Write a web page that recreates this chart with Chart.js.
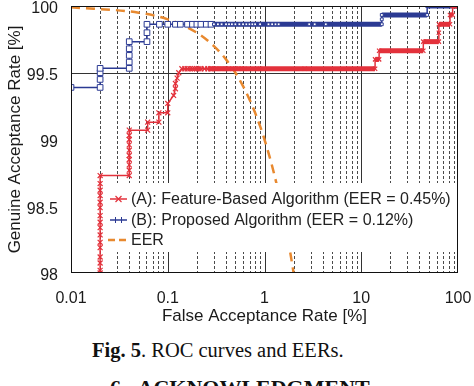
<!DOCTYPE html>
<html>
<head>
<meta charset="utf-8">
<script src="https://cdn.jsdelivr.net/npm/chart.js@4.4.1/dist/chart.umd.min.js"></script>
<style>
  body { margin: 0; background: #fff; width: 474px; height: 386px; overflow: hidden; position: relative; }
  #roc-chart { position: absolute; left: 0; top: 0; }
  .caption { position: absolute; font-family: 'Liberation Serif', 'Times New Roman', serif; color: #111; white-space: nowrap; }
</style>
</head>
<body>
<canvas id="roc-chart" width="474" height="330"></canvas>
<div class="caption" style="left:92px; top:340px; font-size:20.5px; line-height:20px;"><b>Fig. 5</b>. ROC curves and EERs.</div>
<div class="caption" style="left:110px; top:377px; font-size:22px; line-height:22px; font-weight:bold;">6.&nbsp;&nbsp;ACKNOWLEDGMENT</div>
<script>
// ROC curves

const xTickValues = [0.01, 0.1, 1, 10, 100];
const xTickLabels = ['0.01', '0.1', '1', '10', '100'];
const yTickValues = [98, 98.5, 99, 99.5, 100];

// linee della griglia
const xMajorGrid = [0.1, 1, 10];
const xMinorGrid = [0.02, 0.03, 0.04, 0.05, 0.06, 0.07, 0.08, 0.09,
                    0.2, 0.3, 0.4, 0.5, 0.6, 0.7, 0.8, 0.9,
                    2, 3, 4, 5, 6, 7, 8, 9,
                    20, 30, 40, 50, 60, 70, 80, 90];
const yGridLines = [99.5];

const seriesLabels = [
    '(A): Feature-Based Algorithm (EER = 0.45%)',
    '(B): Proposed Algorithm (EER = 0.12%)',
    'EER'
];

// (A) Feature-Based: FAR [%] / GAR [%]
const farA = [
    0.02, 0.02, 0.02, 0.02, 0.02, 0.02, 0.02, 0.02, 0.02, 0.02, 0.02, 0.02, 0.02, 0.02, 0.02, 0.02,
    0.04, 0.04, 0.04, 0.04, 0.04, 0.04, 0.04, 0.04, 0.04, 0.04,
    0.062, 0.062, 0.081, 0.081, 0.1, 0.1, 0.115, 0.12, 0.12, 0.125, 0.13, 0.14,
    0.15, 0.16, 0.17, 0.18, 0.19, 0.2, 0.21, 0.22, 0.24, 0.26, 0.28, 0.3, 0.32, 0.34, 0.36, 0.38,
    0.4, 0.43, 0.46, 0.5, 0.54, 0.58, 0.62, 0.9, 2.6, 13.9,
    13.9, 15.3, 15.3, 43.8, 43.8, 63.4, 63.4, 63.4, 82.7, 82.7, 88, 88, 100
];
const garA = [
    98.0, 98.02, 98.075, 98.12, 98.19, 98.23, 98.285, 98.34, 98.38, 98.43, 98.49, 98.53, 98.58, 98.62, 98.67, 98.73,
    98.73, 98.77, 98.81, 98.85, 98.88, 98.92, 98.96, 99.0, 99.03, 99.07,
    99.07, 99.13, 99.13, 99.2, 99.2, 99.27, 99.33, 99.38, 99.42, 99.46, 99.5, 99.53,
    99.53, 99.53, 99.53, 99.53, 99.53, 99.53, 99.53, 99.53, 99.53, 99.53, 99.53, 99.53, 99.53, 99.53, 99.53, 99.53,
    99.53, 99.53, 99.53, 99.53, 99.53, 99.53, 99.53, 99.53, 99.53, 99.53,
    99.6, 99.6, 99.665, 99.665, 99.733, 99.733, 99.8, 99.863, 99.863, 99.933, 99.933, 100, 100
];

// (B) Proposed: FAR [%] / GAR [%]
const farB = [
    0.01, 0.02, 0.02, 0.02, 0.02,
    0.04, 0.04, 0.04, 0.04, 0.04,
    0.061, 0.061, 0.061,
    0.082, 0.1, 0.12, 0.135, 0.16, 0.18, 0.2, 0.22, 0.25, 0.28, 0.3, 0.33, 0.36, 0.4, 0.43, 0.46,
    0.5, 0.55, 0.6, 0.65, 0.7, 0.75, 0.8, 0.9, 1.1, 1.2, 1.3, 1.4, 2.9, 3.3, 4.3, 16.3,
    16.3, 16.3, 48, 48, 100
];
const garB = [
    99.39, 99.39, 99.45, 99.5, 99.533,
    99.533, 99.58, 99.63, 99.68, 99.733,
    99.733, 99.8, 99.863,
    99.863, 99.863, 99.863, 99.863, 99.863, 99.863, 99.863, 99.863, 99.863, 99.863, 99.863, 99.863, 99.863, 99.863, 99.863, 99.863,
    99.863, 99.863, 99.863, 99.863, 99.863, 99.863, 99.863, 99.863, 99.863, 99.863, 99.863, 99.863, 99.863, 99.863, 99.863, 99.863,
    99.9, 99.933, 99.933, 100, 100
];

// linea EER (FAR = FRR)
const farEER = [0.01, 0.05, 0.1, 0.2, 0.3, 0.4, 0.5, 0.6, 0.7, 0.8, 0.9, 1, 1.2, 1.4, 1.6, 1.8, 2];
const garEER = [99.99, 99.95, 99.9, 99.8, 99.7, 99.6, 99.5, 99.4, 99.3, 99.2, 99.1, 99, 98.8, 98.6, 98.4, 98.2, 98];

const COLOR_A = '#e3313b';
const COLOR_B = '#2b3a93';
const COLOR_EER = '#e8892f';
const FONT_SANS = "'Liberation Sans', Arial, sans-serif";

function toPoints(xs, ys) {
    return xs.map((x, i) => ({ x: x, y: ys[i] }));
}

// tratti orizzontali con marker fitti: appaiono come linee spesse
function flatWidth(threshold, thin, thick) {
    return ctx => (ctx.p0.parsed.y === ctx.p1.parsed.y && ctx.p0.parsed.x >= threshold) ? thick : thin;
}

// marker piu' piccoli dove i punti sono fitti
function markerSize(threshold, big, small) {
    return ctx => {
        const p = ctx.raw;
        return (p && p.x >= threshold) ? small : big;
    };
}

/**
 * Griglia: tratteggiata sui minori, continua sulle decadi e su 99.5
 */
const gridPlugin = {
    id: 'rocGrid',
    beforeDatasetsDraw(chart) {
        const { ctx, chartArea, scales } = chart;
        ctx.save();
        ctx.lineWidth = 1;
        ctx.strokeStyle = '#4a4a4a';
        ctx.setLineDash([3, 2]);
        xMinorGrid.forEach(v => {
            const x = Math.round(scales.x.getPixelForValue(v)) + 0.5;
            ctx.beginPath();
            ctx.moveTo(x, chartArea.top);
            ctx.lineTo(x, chartArea.bottom);
            ctx.stroke();
        });
        ctx.setLineDash([]);
        ctx.strokeStyle = '#333';
        xMajorGrid.forEach(v => {
            const x = Math.round(scales.x.getPixelForValue(v)) + 0.5;
            ctx.beginPath();
            ctx.moveTo(x, chartArea.top);
            ctx.lineTo(x, chartArea.bottom);
            ctx.stroke();
        });
        yGridLines.forEach(v => {
            const y = Math.round(scales.y.getPixelForValue(v)) + 0.5;
            ctx.beginPath();
            ctx.moveTo(chartArea.left, y);
            ctx.lineTo(chartArea.right, y);
            ctx.stroke();
        });
        ctx.restore();
    }
};

/**
 * Legenda dentro l'area del grafico, con sfondo bianco
 */
const legendPlugin = {
    id: 'rocLegend',
    afterDatasetsDraw(chart) {
        const { ctx, chartArea } = chart;
        const boxLeft = chartArea.left + 33;
        const boxTop = chartArea.top + 177;
        ctx.save();
        ctx.fillStyle = '#fff';
        ctx.fillRect(boxLeft, boxTop, chartArea.right - boxLeft - 1, 69);

        const x0 = boxLeft + 6;
        const x1 = boxLeft + 23;
        const rows = [boxTop + 16, boxTop + 37, boxTop + 57];

        // (A) linea rossa con x
        ctx.strokeStyle = COLOR_A;
        ctx.lineWidth = 1.5;
        ctx.beginPath();
        ctx.moveTo(x0, rows[0]);
        ctx.lineTo(x1, rows[0]);
        ctx.stroke();
        const cx = (x0 + x1) / 2;
        ctx.lineWidth = 1.2;
        ctx.beginPath();
        ctx.moveTo(cx - 3, rows[0] - 3); ctx.lineTo(cx + 3, rows[0] + 3);
        ctx.moveTo(cx + 3, rows[0] - 3); ctx.lineTo(cx - 3, rows[0] + 3);
        ctx.stroke();

        // (B) linea blu con marker
        ctx.strokeStyle = COLOR_B;
        ctx.lineWidth = 1.5;
        ctx.beginPath();
        ctx.moveTo(x0, rows[1]);
        ctx.lineTo(x1, rows[1]);
        ctx.stroke();
        ctx.lineWidth = 1;
        [cx - 3, cx + 3].forEach(mx => {
            ctx.beginPath();
            ctx.moveTo(mx, rows[1] - 3);
            ctx.lineTo(mx, rows[1] + 3);
            ctx.stroke();
        });

        // EER tratteggiata
        ctx.strokeStyle = COLOR_EER;
        ctx.lineWidth = 2.5;
        ctx.setLineDash([7, 4]);
        ctx.beginPath();
        ctx.moveTo(x0 - 2, rows[2]);
        ctx.lineTo(x1, rows[2]);
        ctx.stroke();
        ctx.setLineDash([]);

        ctx.fillStyle = '#222';
        ctx.font = '16px ' + FONT_SANS;
        ctx.textBaseline = 'middle';
        ctx.textAlign = 'left';
        seriesLabels.forEach((label, i) => {
            ctx.fillText(label, x1 + 4, rows[i] + 1);
        });
        ctx.restore();
    },
    afterDraw(chart) {
        const { ctx, chartArea } = chart;
        ctx.save();
        ctx.strokeStyle = '#111';
        ctx.lineWidth = 1;
        ctx.strokeRect(chartArea.left + 0.5, chartArea.top + 0.5,
            chartArea.right - chartArea.left - 1, chartArea.bottom - chartArea.top - 1);
        ctx.restore();
    }
};

const ctx = document.getElementById('roc-chart');

new Chart(ctx, {
    type: 'line',
    data: {
        datasets: [
            {
                label: seriesLabels[0],
                data: toPoints(farA, garA),
                borderColor: COLOR_A,
                borderWidth: 1.5,
                pointStyle: 'crossRot',
                pointRadius: markerSize(0.3, 3.5, 3),
                pointBorderWidth: 1.2,
                pointBorderColor: COLOR_A,
                pointBackgroundColor: COLOR_A,
                fill: false,
                tension: 0,
                segment: { borderWidth: flatWidth(0.25, 1.5, 5) }
            },
            {
                label: seriesLabels[1],
                data: toPoints(farB, garB),
                borderColor: COLOR_B,
                borderWidth: 1.5,
                pointStyle: 'rect',
                pointRadius: markerSize(0.3, 4, 2),
                pointBorderWidth: 1,
                pointBorderColor: COLOR_B,
                pointBackgroundColor: '#fff',
                fill: false,
                tension: 0,
                segment: { borderWidth: flatWidth(0.25, 1.5, 5) }
            },
            {
                label: seriesLabels[2],
                data: toPoints(farEER, garEER),
                borderColor: COLOR_EER,
                borderWidth: 2.5,
                borderDash: [9, 6],
                pointRadius: 0,
                fill: false,
                cubicInterpolationMode: 'monotone'
            }
        ]
    },
    options: {
        responsive: false,
        animation: false,
        devicePixelRatio: 1,
        layout: { padding: { left: 0, right: 16, top: 6, bottom: 0 } },
        plugins: {
            legend: { display: false },
            tooltip: { enabled: false }
        },
        scales: {
            x: {
                type: 'logarithmic',
                min: 0.01,
                max: 100,
                grid: { display: false, drawTicks: false },
                border: { display: false },
                afterBuildTicks: scale => {
                    scale.ticks = xTickValues.map(v => ({ value: v }));
                },
                afterFit: scale => {
                    scale.height = 57;
                    scale.paddingLeft = 0;
                    scale.paddingRight = 0;
                },
                ticks: {
                    autoSkip: false,
                    maxRotation: 0,
                    padding: 16,
                    color: '#1a1a1a',
                    font: { size: 16, family: FONT_SANS },
                    callback: (value, index) => xTickLabels[index]
                },
                title: {
                    display: true,
                    text: 'False Acceptance Rate [%]',
                    color: '#1a1a1a',
                    font: { size: 17, family: FONT_SANS },
                    padding: { top: 0, bottom: 3 }
                }
            },
            y: {
                min: 98,
                max: 100,
                grid: { display: false, drawTicks: false },
                border: { display: false },
                afterBuildTicks: scale => {
                    scale.ticks = yTickValues.map(v => ({ value: v }));
                },
                afterFit: scale => {
                    scale.width = 71;
                    scale.paddingTop = 0;
                    scale.paddingBottom = 0;
                },
                ticks: {
                    autoSkip: false,
                    padding: 13,
                    labelOffset: 3,
                    color: '#1a1a1a',
                    font: { size: 16, family: FONT_SANS },
                    callback: value => String(value)
                },
                title: {
                    display: true,
                    text: 'Genuine Acceptance Rate [%]',
                    color: '#1a1a1a',
                    font: { size: 17, family: FONT_SANS },
                    padding: { top: 5, bottom: 0 }
                }
            }
        }
    },
    plugins: [gridPlugin, legendPlugin]
});
</script>
</body>
</html>
